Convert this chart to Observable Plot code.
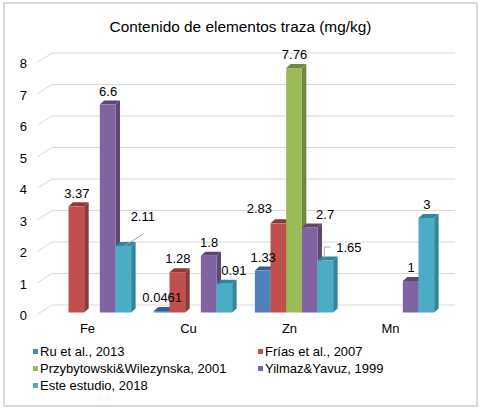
<!DOCTYPE html>
<html>
<head>
<meta charset="utf-8">
<script src="https://cdn.jsdelivr.net/npm/d3@7"></script>
<script src="https://cdn.jsdelivr.net/npm/@observablehq/plot@0.6"></script>
<style>
  body { margin: 0; background: #fff; font-family: "Liberation Sans", Arial, sans-serif; }
  #wrap { position: relative; width: 481px; height: 411px; overflow: hidden; background: #fff; }
  #border { position: absolute; left: 3px; top: 2px; width: 475px; height: 405px; box-sizing: border-box; border: 2px solid #d9d9d9; }
  #chart { position: absolute; left: 0; top: 0; }
  #title { position: absolute; left: 0; top: 18px; width: 481px; text-align: center; font-size: 15.4px; line-height: 18px; color: #000; }
  .leg { position: absolute; font-size: 13px; line-height: 14px; color: #000; white-space: nowrap; }
  .leg span.sw { display: inline-block; width: 5px; height: 5px; margin-right: 2px; vertical-align: 2px; }
</style>
</head>
<body>
<div id="wrap">
  <div id="border"></div>
  <div id="chart"></div>
  <div id="title">Contenido de elementos traza (mg/kg)</div>
  <div id="legend"></div>
</div>
<script>
// ---- data ----
const categories = ["Fe", "Cu", "Zn", "Mn"];
const series = ["Ru et al., 2013", "Frías et al., 2007", "Przybytowski&Wilezynska, 2001", "Yilmaz&Yavuz, 1999", "Este estudio, 2018"];
const ru2013     = [null, 0.0461, 1.33, null];
const frias2007  = [3.37, 1.28, 2.83, null];
const przy2001   = [null, null, 7.76, null];
const yilmaz1999 = [6.6, 1.8, 2.7, 1];
const este2018   = [2.11, 0.91, 1.65, 3];
const yTicks = [0, 1, 2, 3, 4, 5, 6, 7, 8];

// ---- styles ----
const frontColors = ["#4F81BD", "#C0504D", "#9BBB59", "#8064A2", "#4BACC6"];
const sideColors  = ["#385D8A", "#8C3A38", "#71893F", "#5C4776", "#31859C"];
const BAR = 0.155;          // bar width as fraction of a category step
const DX = 4.5, DY = 4;     // 3D depth of bars (px)
const WALL_DX = 10.5, WALL_DY = 7.5; // back wall offset (px)
const labelNudge = {
  "Fe|Este estudio, 2018": [19, -30],
  "Cu|Este estudio, 2018": [9, -14],
  "Zn|Frías et al., 2007": [-19.5, -15],
  "Zn|Yilmaz&Yavuz, 1999": [15, -13.5],
  "Zn|Este estudio, 2018": [23, -13.5]
};
const leaders = {
  "Fe|Este estudio, 2018": [[1, 0], [20, -12]],
  "Zn|Este estudio, 2018": [[-1, -2.5], [-1, -13.5], [5, -13.5]]
};

// ---- table ----
const seriesValues = [ru2013, frias2007, przy2001, yilmaz1999, este2018];
const rows = [];
seriesValues.forEach((vals, j) => {
  vals.forEach((v, i) => {
    if (v == null) return;
    const x1 = i + (j - 2.5) * BAR;
    rows.push({cat: categories[i], i, series: series[j], j, value: v, x1, x2: x1 + BAR, xc: x1 + BAR / 2, key: categories[i] + "|" + series[j]});
  });
});

// back wall gridlines
function grid(index, scales, values, dims) {
  const g = d3.create("svg:g").attr("fill", "none").attr("stroke", "#d9d9d9").attr("stroke-width", 1);
  for (const t of yTicks) {
    const y = scales.y(t);
    const xl = dims.marginLeft;
    g.append("path").attr("d", `M${xl - 4.5},${y + 2}L${xl + WALL_DX},${y - WALL_DY}H${dims.width - 26}`);
  }
  return g.node();
}

// 3D side and top faces
function faces(index, scales) {
  const g = d3.create("svg:g");
  for (const r of rows) {
    const X1 = scales.x(r.x1), X2 = scales.x(r.x2), Y = scales.y(r.value), Y0 = scales.y(0);
    g.append("path").attr("fill", sideColors[r.j])
      .attr("d", `M${X2},${Y}L${X2 + DX},${Y - DY}L${X2 + DX},${Y0 - DY}L${X2},${Y0}Z`);
    g.append("path").attr("fill", sideColors[r.j])
      .attr("d", `M${X1},${Y}L${X1 + DX},${Y - DY}L${X2 + DX},${Y - DY}L${X2},${Y}Z`);
  }
  return g.node();
}

// leader lines
function leaderLines(index, scales) {
  const g = d3.create("svg:g").attr("fill", "none").attr("stroke", "#a6a6a6").attr("stroke-width", 1);
  for (const r of rows) {
    const pts = leaders[r.key];
    if (!pts) continue;
    const cx = scales.x(r.xc), cy = scales.y(r.value);
    g.append("path").attr("d", "M" + pts.map(([a, b]) => `${cx + a},${cy + b}`).join("L"));
  }
  return g.node();
}

const nudgedMarks = Object.entries(labelNudge).map(([k, [dx, dy]]) =>
  Plot.text(rows.filter(r => r.key === k), {x: "xc", y: "value", text: d => String(d.value), dx, dy, fill: "#000"})
);

const chart = Plot.plot({
  width: 481,
  height: 411,
  marginLeft: 41.5,
  marginRight: 35.5,
  marginTop: 60.5,
  marginBottom: 98.5,
  style: {fontFamily: "'Liberation Sans', Arial, sans-serif", fontSize: "13px", background: "transparent", color: "#000"},
  x: {domain: [-0.5, 3.5], axis: null},
  y: {domain: [0, 8], axis: null},
  color: {domain: series, range: frontColors},
  marks: [
    grid,
    faces,
    Plot.rect(rows, {x1: "x1", x2: "x2", y1: d => 0, y2: "value", fill: "series"}),
    leaderLines,
    Plot.text(rows.filter(r => !labelNudge[r.key]), {x: "xc", y: "value", text: d => String(d.value), dy: -13.5, fill: "#000"}),
    ...nudgedMarks,
    Plot.text(yTicks, {y: d => d, text: d => String(d), frameAnchor: "left", textAnchor: "end", dx: -15, dy: 3, fill: "#000"}),
    Plot.text(categories, {x: (d, i) => i, text: d => d, frameAnchor: "bottom", dx: -5, dy: 19.5, fill: "#000"})
  ]
});
document.getElementById("chart").appendChild(chart);

// legend
const legend = document.getElementById("legend");
const legRows = [352, 369, 386];
series.forEach((s, k) => {
  const col = k % 2, row = Math.floor(k / 2);
  const d = document.createElement("div");
  d.className = "leg";
  d.style.left = (col === 0 ? 33 : 258) + "px";
  d.style.top = (legRows[row] - 7) + "px";
  d.innerHTML = `<span class="sw" style="background:${frontColors[k]}"></span>`;
  d.appendChild(document.createTextNode(s));
  legend.appendChild(d);
});
</script>
</body>
</html>
